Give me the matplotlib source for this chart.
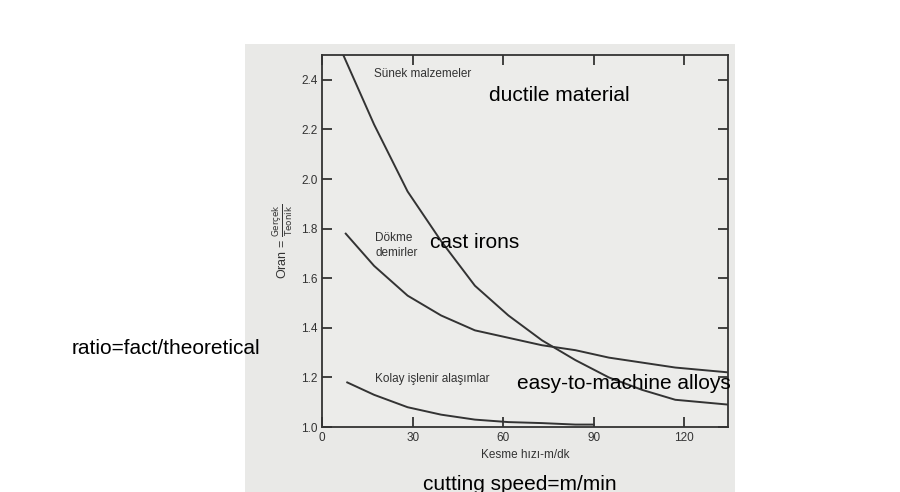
import matplotlib.pyplot as plt
from matplotlib.patches import Rectangle

# curves
duct_x = [7, 17.2, 28.3, 39.4, 50.6, 61.7, 72.8, 83.9, 95, 106, 117, 135]
duct_y = [2.50, 2.22, 1.95, 1.75, 1.57, 1.45, 1.35, 1.27, 1.20, 1.15, 1.11, 1.09]
cast_x = [7.8, 17.2, 28.3, 39.4, 50.6, 61.7, 72.8, 83.9, 95, 106, 117, 135]
cast_y = [1.78, 1.65, 1.53, 1.45, 1.39, 1.36, 1.33, 1.31, 1.28, 1.26, 1.24, 1.22]
easy_x = [8.3, 17.2, 28.3, 39.4, 50.6, 61.7, 72.8, 83.9, 90]
easy_y = [1.18, 1.13, 1.08, 1.05, 1.03, 1.02, 1.016, 1.01, 1.01]
xticks = [0, 30, 60, 90, 120]
yticks = [1.0, 1.2, 1.4, 1.6, 1.8, 2.0, 2.2, 2.4]

plt.rcParams['font.family'] = ['Liberation Sans', 'DejaVu Sans']
fig = plt.figure(figsize=(9, 4.92), dpi=100)

# scanned page background
bg = Rectangle((0.272, 0.0), 0.545, 0.91, transform=fig.transFigure,
               facecolor='#e9e9e7', edgecolor='none', zorder=-5)
fig.add_artist(bg)

ax = fig.add_axes([0.358, 0.132, 0.451, 0.756])
ax.set_zorder(2)
ax.set_facecolor('#ececea')
ax.plot(duct_x, duct_y, color='#333333', lw=1.4)
ax.plot(cast_x, cast_y, color='#333333', lw=1.4)
ax.plot(easy_x, easy_y, color='#333333', lw=1.4)
ax.set_xlim(0, 134.5)
ax.set_ylim(1.0, 2.5)
ax.set_xticks(xticks)
ax.set_yticks(yticks)
ax.set_yticklabels(['%.1f' % v for v in yticks])
ax.tick_params(direction='in', length=7, width=1.3, labelsize=8.5, colors='#333333',
               top=True, right=True)
for s in ax.spines.values():
    s.set_linewidth(1.3)
    s.set_color('#333333')
ax.set_xlabel('Kesme hızı-m/dk', fontsize=8.5, color='#333333')
ax.set_ylabel(r'Oran = $\frac{\mathrm{Gerçek}}{\mathrm{Teonik}}$', fontsize=9, color='#333333')

ax.text(17, 2.41, 'Sünek malzemeler', fontsize=8.5, color='#333333')
ax.text(17.5, 1.75, 'Dökme', fontsize=8.5, color='#333333')
ax.text(17.5, 1.69, 'demirler', fontsize=8.5, color='#333333')
ax.text(17.5, 1.18, 'Kolay işlenir alaşımlar', fontsize=8.5, color='#333333')

big = dict(fontsize=15, zorder=10)
fig.text(0.543, 0.795, 'ductile material', **big)
fig.text(0.478, 0.495, 'cast irons', **big)
fig.text(0.574, 0.21, 'easy-to-machine alloys', **big)
fig.text(0.08, 0.28, 'ratio=fact/theoretical', **big)
fig.text(0.47, 0.005, 'cutting speed=m/min', **big)

fig.savefig('out.png')
